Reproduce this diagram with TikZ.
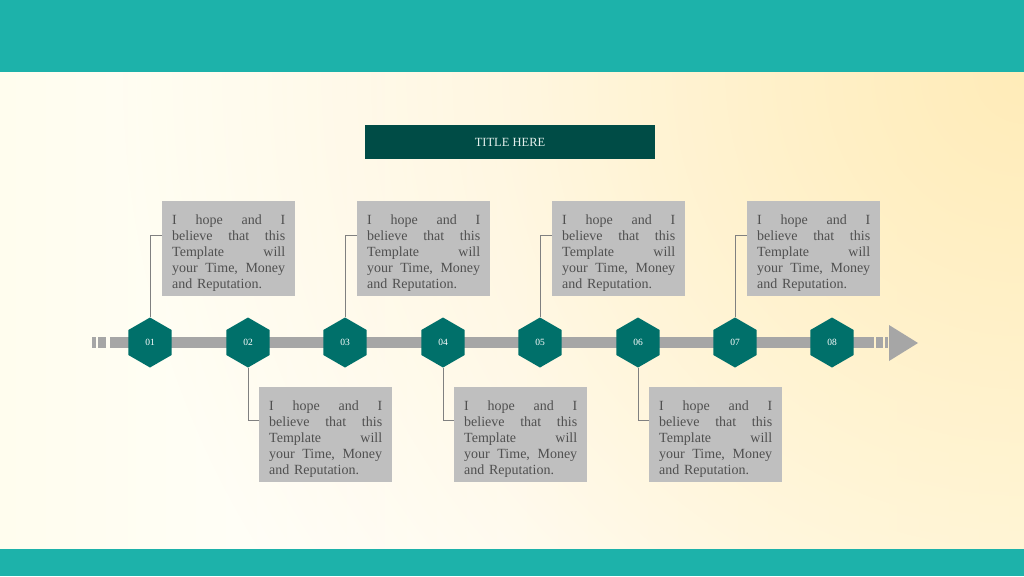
\documentclass[tikz,border=0pt]{standalone}
\usepackage{fontspec}
\setmainfont{Liberation Serif}
\usetikzlibrary{shapes.geometric,fadings}
\definecolor{band}{RGB}{29,178,170}
\definecolor{titlecol}{RGB}{0,76,70}
\definecolor{titletext}{RGB}{228,240,236}
\definecolor{hexcol}{RGB}{0,112,106}
\definecolor{barcol}{RGB}{166,166,166}
\definecolor{boxcol}{RGB}{191,191,191}
\definecolor{boxtext}{RGB}{80,80,80}
\definecolor{conncol}{RGB}{128,128,128}
\definecolor{cream}{RGB}{255,253,238}
\definecolor{yel}{RGB}{255,236,185}
\newcommand{\jl}[1]{\leavevmode\hbox to 113pt{#1}}
\newcommand{\boxtxt}{%
\jl{\rule{0pt}{18pt}I\hfill hope\hfill and\hfill I}\\
\jl{believe\hfill that\hfill this}\\
\jl{Template\hfill will}\\
\jl{your\hfill Time,\hfill Money}\\
and Reputation.}
\tikzfading[name=softspot, inner color=transparent!0, outer color=transparent!100]
\tikzset{
  hexa/.style={regular polygon, regular polygon sides=6, shape border rotate=30,
    minimum size=50pt, inner sep=0pt, fill=hexcol, text=white, font=\fontsize{9.5}{11}\selectfont},
  tbox/.style={anchor=north west, fill=boxcol, minimum width=133pt, minimum height=95pt,
    text width=113pt, inner xsep=10pt, inner ysep=0pt, align=left, text=boxtext,
    font=\fontsize{14}{16}\selectfont},
  conn/.style={draw=conncol, line width=0.8pt},
  titlebox/.style={fill=titlecol, minimum width=290pt, minimum height=34pt, text=titletext,
    font=\fontsize{12.5}{14}\selectfont}
}
\begin{document}
\begin{tikzpicture}[x=1pt,y=-1pt]
\useasboundingbox (0,0) rectangle (1024,576);
\shade[left color=cream, right color=cream, middle color=white] (0,72) rectangle (1024,549);
\begin{scope}
  \clip (0,72) rectangle (1024,549);
  \fill[yel, path fading=softspot] (1024,72) circle [radius=900pt];
\end{scope}
\fill[band] (0,0) rectangle (1024,72);
\fill[band] (0,549) rectangle (1024,576);
\node[titlebox] (title) at (510,142) {TITLE HERE};
% timeline bar
\fill[barcol] (92,337) rectangle (96,348);
\fill[barcol] (98,337) rectangle (106,348);
\fill[barcol] (110,337) rectangle (874,348);
\fill[barcol] (876,337) rectangle (883,348);
\fill[barcol] (885,337) rectangle (888,348);
\fill[barcol] (889,325) -- (918,343) -- (889,361) -- cycle;
% hexagons
\foreach \i/\x in {1/150,2/248,3/345,4/443,5/540,6/638,7/735,8/832}{
  \node[hexa] (h\i) at (\x,342.5) {0\i};
}
% boxes
\node[tbox] (b1) at (162,201) {\boxtxt};
\node[tbox] (b3) at (357,201) {\boxtxt};
\node[tbox] (b5) at (552,201) {\boxtxt};
\node[tbox] (b7) at (747,201) {\boxtxt};
\node[tbox] (b2) at (259,387) {\boxtxt};
\node[tbox] (b4) at (454,387) {\boxtxt};
\node[tbox] (b6) at (649,387) {\boxtxt};
% connectors
\foreach \i in {1,3,5,7}{
  \draw[conn] (h\i.north) |- ([yshift=-34pt]b\i.north west);
}
\foreach \i in {2,4,6}{
  \draw[conn] (h\i.south) |- ([yshift=-33pt]b\i.north west);
}
\end{tikzpicture}
\end{document}
